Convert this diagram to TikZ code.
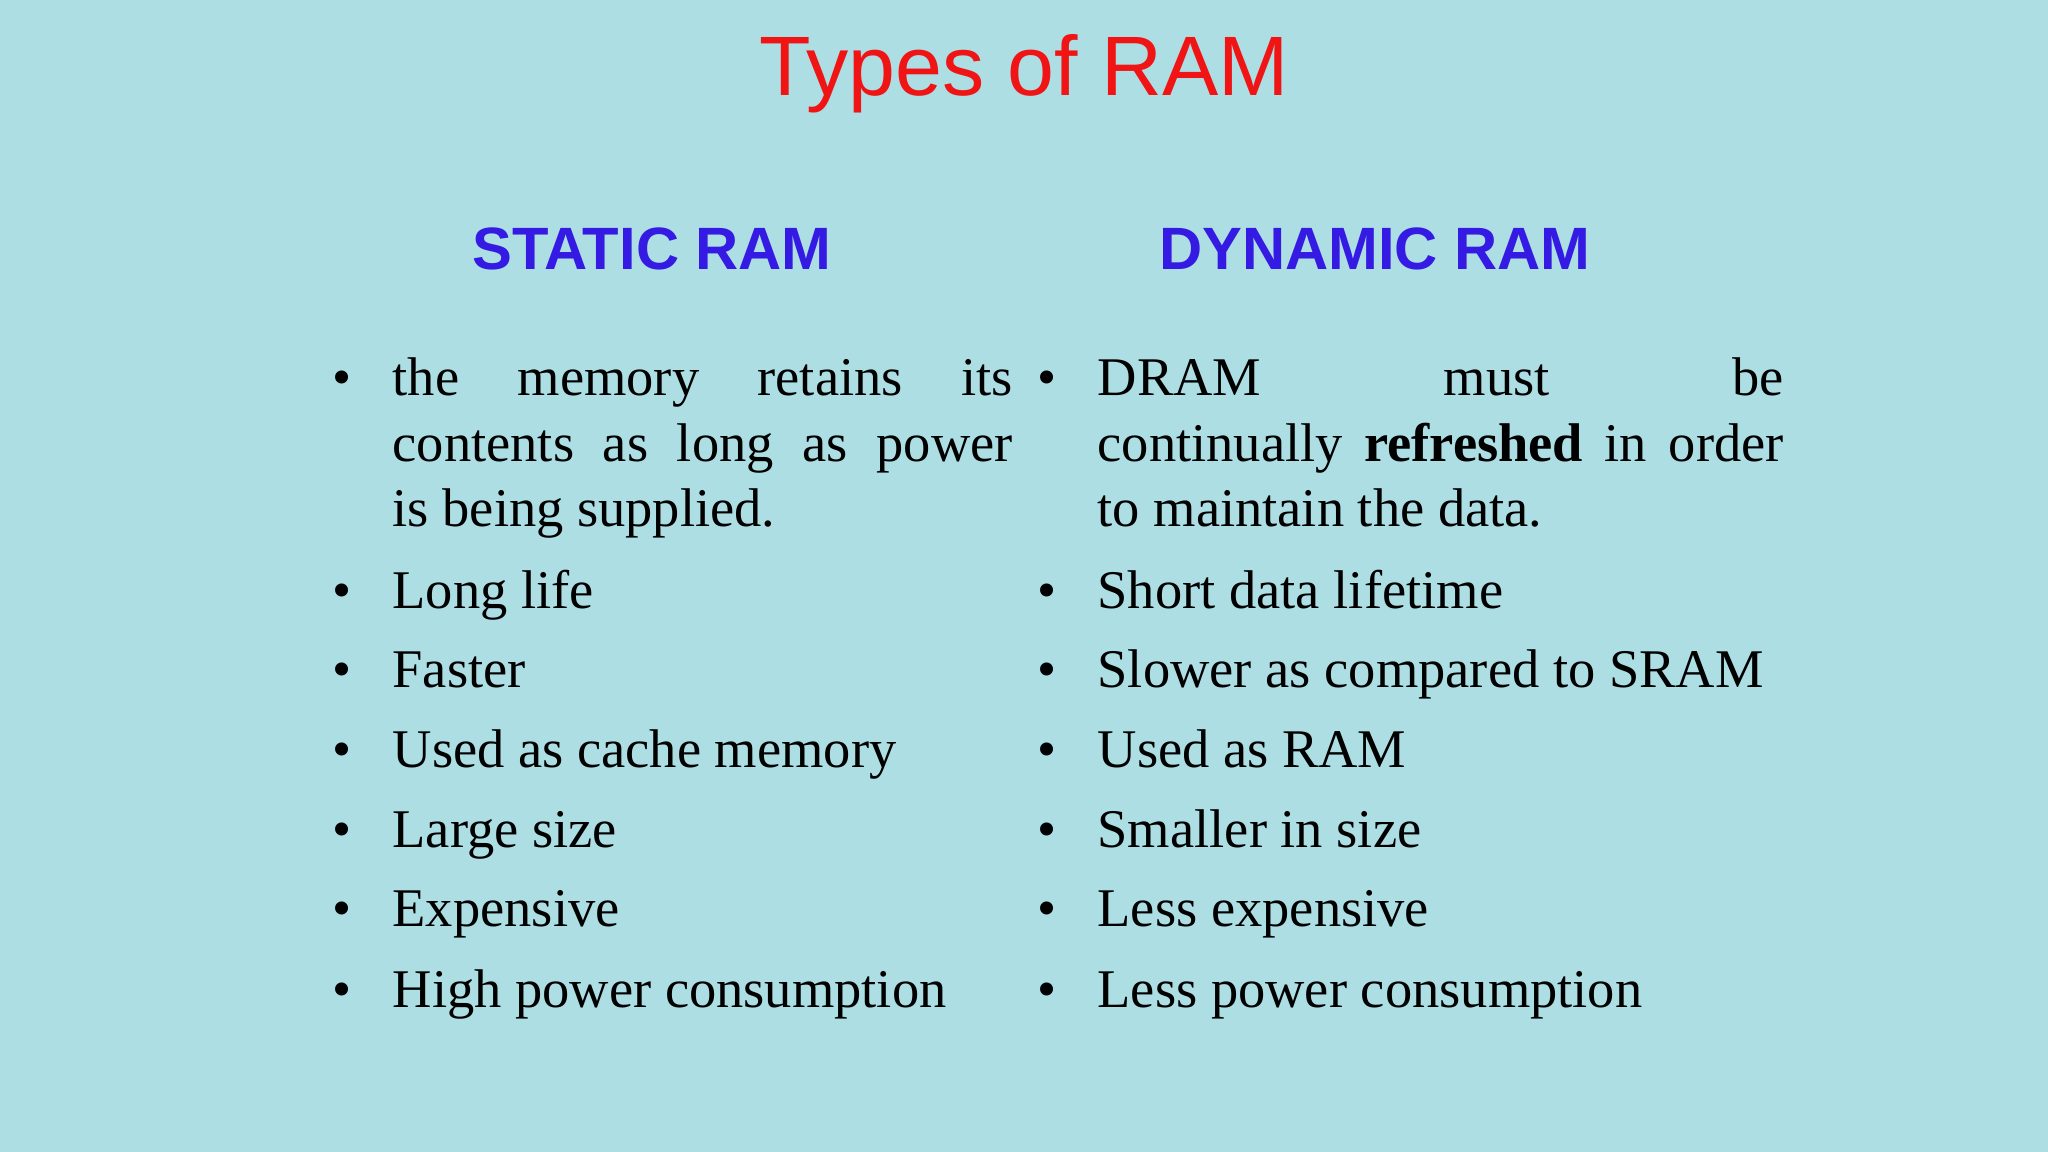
\documentclass[tikz,border=0pt]{standalone}
\usepackage{fontspec}
\setmainfont{Liberation Serif}
\newfontfamily\headfont{Liberation Sans}
\definecolor{bgcyan}{RGB}{172,222,228}
\definecolor{headblue}{RGB}{52,26,226}
\definecolor{titlered}{RGB}{240,20,20}
\tikzset{
  item/.style={anchor=base west,inner sep=0pt,font=\fontsize{15.5}{18.5}\selectfont,text width=#1,align=justify},
  dot/.style={anchor=base,inner sep=0pt,font=\fontsize{15.5}{18.5}\selectfont},
  head/.style={font=\headfont\bfseries\fontsize{17}{20}\selectfont,text=headblue}
}
\begin{document}
\begin{tikzpicture}
  \fill[bgcyan](0,0)rectangle(20.48,11.52);
  \useasboundingbox(0,0)rectangle(20.48,11.52);
  \node(title)at(10.24,10.78){\headfont\fontsize{24}{28}\selectfont\color{titlered}Types of RAM};
  \node[head](sram)at(6.52,9.03){STATIC RAM};
  \node[head](dram)at(13.75,9.03){DYNAMIC RAM};
  % static column
  \node[item=6.2cm](s1)at(3.92,7.56){the memory retains its\linebreak contents as long as power\linebreak is being supplied.};
  \foreach \y/\n/\t in {5.43/s2/Long life,4.64/s3/Faster,3.84/s4/Used as cache memory,3.04/s5/Large size,2.25/s6/Expensive,1.44/s7/High power consumption}
    \node[item=8cm](\n)at(3.92,\y){\t};
  \foreach \y in {7.56,5.43,4.64,3.84,3.04,2.25,1.44}
    \node[dot]at(3.42,\y){\textbullet};
  % dynamic column
  \node[item=6.86cm](d1)at(10.97,7.56){DRAM must be\linebreak continually \mbox{\textbf{refreshed}} in order\linebreak to maintain the data.};
  \foreach \y/\n/\t in {5.43/d2/Short data lifetime,4.64/d3/Slower as compared to SRAM,3.84/d4/Used as RAM,3.04/d5/Smaller in size,2.25/d6/Less expensive,1.44/d7/Less power consumption}
    \node[item=8cm](\n)at(10.97,\y){\t};
  \foreach \y in {7.56,5.43,4.64,3.84,3.04,2.25,1.44}
    \node[dot]at(10.47,\y){\textbullet};
\end{tikzpicture}
\end{document}
